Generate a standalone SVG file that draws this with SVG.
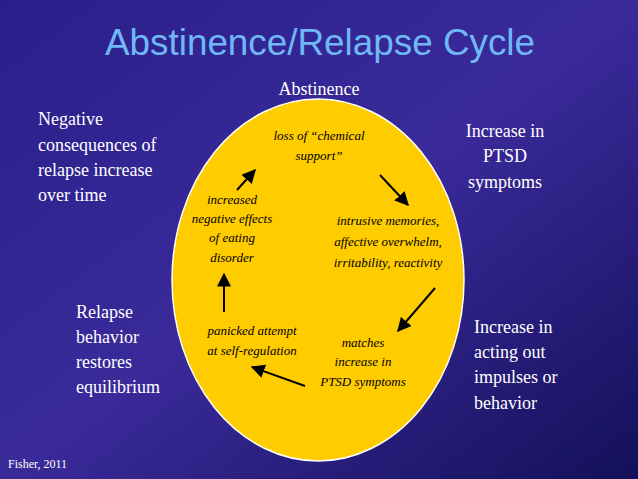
<svg xmlns="http://www.w3.org/2000/svg" width="638" height="479" viewBox="0 0 638 479">
<defs>
<linearGradient id="bg" x1="0" y1="0" x2="1" y2="1">
<stop offset="0" stop-color="#2a1f8a"/><stop offset="0.5" stop-color="#3a2a9a"/><stop offset="1" stop-color="#14105a"/>
</linearGradient>
<marker id="ah" viewBox="0 0 10 10" refX="9" refY="5" markerWidth="7" markerHeight="7" orient="auto"><path d="M0,0 L10,5 L0,10 z" fill="#000"/></marker>
<style>
.w{fill:#fff;font-family:"Liberation Serif",serif;font-size:18px}
.i{fill:#000;font-family:"Liberation Serif",serif;font-style:italic;font-size:13px;text-anchor:middle}
.c{stroke:#000;stroke-width:2;marker-end:url(#ah)}
</style>
</defs>
<rect width="638" height="479" fill="url(#bg)"/>
<text x="320" y="55" text-anchor="middle" fill="#6fb8f5" font-family="Liberation Sans,sans-serif" font-size="36" textLength="430" lengthAdjust="spacingAndGlyphs">Abstinence/Relapse Cycle</text>
<g id="circle"><ellipse cx="318" cy="280" rx="146" ry="181" fill="#ffcc00" stroke="#fff" stroke-width="1.5"/></g>
<g id="labels">
<text class="w" x="319" y="95" text-anchor="middle">Abstinence</text>
<text class="w" x="38" y="125">Negative</text>
<text class="w" x="38" y="151">consequences of</text>
<text class="w" x="38" y="176">relapse increase</text>
<text class="w" x="38" y="201">over time</text>
<text class="w" x="505" y="137" text-anchor="middle">Increase in</text>
<text class="w" x="505" y="162" text-anchor="middle">PTSD</text>
<text class="w" x="505" y="188" text-anchor="middle">symptoms</text>
<text class="w" x="76" y="318">Relapse</text>
<text class="w" x="76" y="343">behavior</text>
<text class="w" x="76" y="368">restores</text>
<text class="w" x="76" y="393">equilibrium</text>
<text class="w" x="474" y="333">Increase in</text>
<text class="w" x="474" y="358">acting out</text>
<text class="w" x="474" y="383">impulses or</text>
<text class="w" x="474" y="409">behavior</text>
<text x="8" y="468" fill="#fff" font-family="Liberation Serif,serif" font-size="12">Fisher, 2011</text>
</g>
<g id="n1"><text class="i" x="319" y="140">loss of “chemical</text><text class="i" x="319" y="160">support”</text></g>
<g id="n2"><text class="i" x="388" y="225">intrusive memories,</text><text class="i" x="388" y="246">affective overwhelm,</text><text class="i" x="388" y="267">irritability, reactivity</text></g>
<g id="n3"><text class="i" x="363" y="347">matches</text><text class="i" x="363" y="366">increase in</text><text class="i" x="363" y="386">PTSD symptoms</text></g>
<g id="n4"><text class="i" x="252" y="335">panicked attempt</text><text class="i" x="252" y="355">at self-regulation</text></g>
<g id="n5"><text class="i" x="232" y="204">increased</text><text class="i" x="232" y="223">negative effects</text><text class="i" x="232" y="242">of eating</text><text class="i" x="232" y="262">disorder</text></g>
<g id="connectors">
<line class="c" x1="237" y1="190" x2="255" y2="170"/>
<line class="c" x1="380" y1="175" x2="408" y2="205"/>
<line class="c" x1="435" y1="288" x2="398" y2="331"/>
<line class="c" x1="305" y1="386" x2="252" y2="367"/>
<line class="c" x1="224" y1="312" x2="224" y2="274"/>
</g>
</svg>
